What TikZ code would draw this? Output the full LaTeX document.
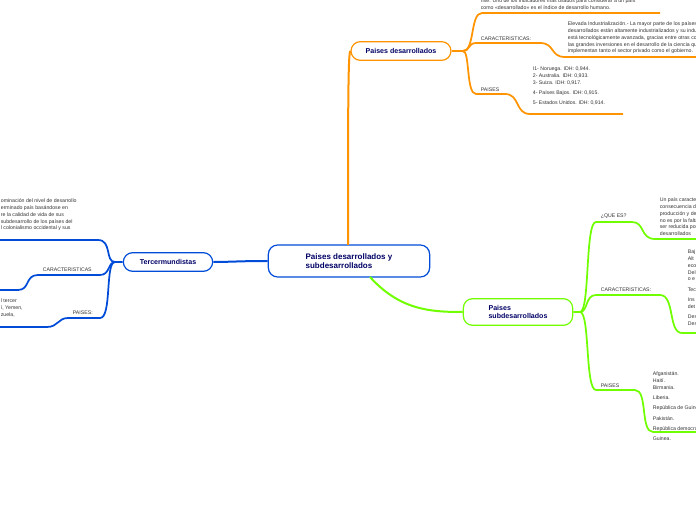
\documentclass[tikz,border=0pt]{standalone}
\usepackage{fontspec}
\setmainfont{Liberation Sans}
\begin{document}
\begin{tikzpicture}[x=0.75pt,y=-0.75pt,
  org/.style={draw=orange!90!yellow,line width=1pt},
  box/.style={rounded corners=7pt,fill=white,line width=0.9pt,font=\fontsize{6}{7}\selectfont\bfseries,text=blue!40!black,inner sep=0pt,minimum height=14pt},
  lab/.style={font=\fontsize{3.9}{4.6}\selectfont,inner sep=0pt,anchor=south west,text=black!80},
  txt/.style={font=\fontsize{3.9}{5.1}\selectfont,inner sep=0pt,anchor=north west,align=left,text=black!80}]
\colorlet{O}{orange!85!yellow}
\colorlet{G}{green!60!lime!80!yellow}
\colorlet{B}{blue!65!cyan!85!black}
\tikzset{every path/.append style={line width=1.3pt}}
\useasboundingbox (0,0) rectangle (696,520);
% boxes
\node[box,draw=B,minimum width=121pt,minimum height=24pt,align=left,line width=0.9pt] (c) at (349,261) {Paises desarrollados y\\subdesarrollados};
\node[box,draw=O,minimum width=75pt,font=\fontsize{5.3}{6}\selectfont\bfseries,line width=0.9pt] (d) at (401,51) {Paises desarrollados};
\node[box,draw=G,minimum width=82pt,minimum height=20pt,align=left,font=\fontsize{5.3}{6.5}\selectfont\bfseries,line width=0.9pt] (s) at (518,312) {Paises\\subdesarrollados};
\node[box,draw=B,minimum width=67pt,font=\fontsize{5.3}{6}\selectfont\bfseries,line width=0.9pt] (t) at (168,262) {Tercermundistas};
% main connectors
\coordinate (c1) at (348,245);
\draw[O,line width=1.5pt] (c1) .. controls (348,120) and (348,51) .. (d.west);
\coordinate (c2) at (370,277);
\draw[G,line width=1.5pt] (c2) .. controls (400,310) and (430,312) .. (s.west);
\draw[B,line width=1.5pt] (c.west) .. controls (240,261) and (230,262) .. (t.east);
% orange branches
\coordinate (o0) at (452,51);
\draw[O] (o0) -- (463,51) .. controls (475,51) and (470,13) .. (482,13) -- (660,13);
\node[txt,anchor=south west] (od) at (480,10) {nse. Uno de los indicadores más usados para considerar a un país\\como «desarrollado» es el índice de desarrollo humano.};
\draw[O] (463,51) .. controls (470,51) and (468,43) .. (476,43) -- (540,43) .. controls (555,43) and (550,57) .. (565,57) -- (696,57);
\node[lab] (oc) at (480,41) {CARACTERISTICAS:};
\node[txt] (oct) at (567,21) {Elevada Industrialización.- La mayor parte de los países\\desarrollados están altamente industrializados y su industria\\está tecnológicamente avanzada, gracias entre otras cosas a\\las grandes inversiones en el desarrollo de la ciencia que\\implementan tanto el sector privado como el gobierno.};
\draw[O] (463,51) .. controls (470,51) and (466,94) .. (476,94) -- (505,94) .. controls (520,94) and (515,114) .. (530,114) -- (623,114);
\node[lab] (op) at (480,92) {PAISES};
\node[txt] (opt) at (532,66) {I1- Noruega. IDH: 0,944.\\2- Australia. IDH: 0,933.\\3- Suiza. IDH: 0,917.\\[2.6pt]4- Países Bajos. IDH: 0,915.\\[2.6pt]5- Estados Unidos. IDH: 0,914.};
% green branches
\draw[G] (s.east) -- (580,312) .. controls (590,312) and (585,222) .. (596,222) -- (632,222) .. controls (645,222) and (640,239) .. (655,239) -- (696,239);
\node[lab] (gq) at (600,219) {¿QUE ES?};
\node[txt] (gqt) at (659,197) {Un país caracterizado\\consecuencia de un\\producción y de\\no es por la falta\\ser reducida por\\desarrollados};
\draw[G] (580,312) .. controls (588,312) and (585,295) .. (596,295) -- (660,295) .. controls (675,295) and (668,333) .. (682,333) -- (696,333);
\node[lab] (gc) at (600,292) {CARACTERISTICAS:};
\node[txt] (gct) at (687,249) {Baj\\Alt\\eco\\Del\\o e\\[2.6pt]Tec\\[2.6pt]Ins\\det\\[2.6pt]Des\\Des};
\draw[G] (580,312) .. controls (590,312) and (585,390) .. (596,390) -- (635,390) .. controls (648,390) and (640,432) .. (653,432) -- (696,432);
\node[lab] (gp) at (600,388) {PAISES};
\node[txt] (gpt) at (652,371) {Afganistán.\\Haití.\\Birmania.\\[2.6pt]Liberia.\\[2.6pt]República de Guinea\\[2.6pt]Pakistán.\\[2.6pt]República democrática\\[2.6pt]Guinea.};
% blue branches
\draw[B] (t.west) -- (115,262) .. controls (105,262) and (112,240) .. (98,240) -- (0,240);
\node[txt] (bd) at (0,198) {ominación del nivel de desarrollo\\erminado país basándose en\\re la calidad de vida de sus\\subdesarrollo de los países del\\l colonialismo occidental y sus};
\draw[B] (115,262) .. controls (108,262) and (110,275) .. (100,275) -- (38,275) .. controls (25,275) and (30,290) .. (18,290) -- (0,290);
\node[lab] (bc) at (42,272) {CARACTERISTICAS};
\draw[B] (115,262) .. controls (105,262) and (112,318) .. (100,318) -- (68,318) .. controls (58,318) and (58,327) .. (47,327) -- (0,327);
\node[lab] (bp) at (72,315) {PAISES:};
\node[txt] (bpt) at (0,298) {l tercer\\í, Yemen,\\zuela,};
\end{tikzpicture}
\end{document}
